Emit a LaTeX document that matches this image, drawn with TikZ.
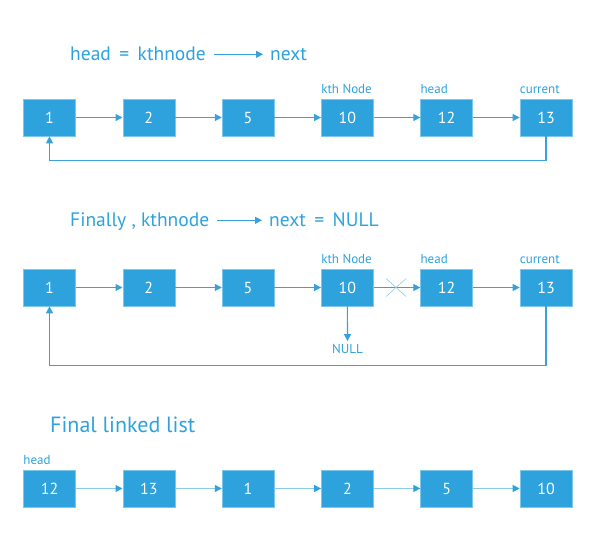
\documentclass[tikz,border=0pt]{standalone}
\usepackage{fontspec}
\setmainfont{PT Sans}
\usepackage{tikz}
\usetikzlibrary{arrows.meta, positioning, calc}
\definecolor{listblue}{RGB}{45,162,220}
\definecolor{lineblue}{RGB}{58,160,216}
\definecolor{paleblue}{RGB}{140,203,234}
\definecolor{edgeblue}{RGB}{125,198,236}
\tikzset{
  listnode/.style={
    draw=edgeblue, fill=listblue, line width=0.6pt, text=white,
    minimum width=52pt, minimum height=37pt, inner sep=0pt,
    font=\fontsize{16}{18}\selectfont
  },
  toplabel/.style={
    text=listblue, inner sep=0pt, anchor=base west, yshift=5pt,
    font=\fontsize{13}{15}\selectfont
  },
  titletext/.style={
    text=listblue, inner sep=0pt, anchor=base west,
    font=\fontsize{19.5}{22}\selectfont
  },
  linkarrow/.style={
    -{Triangle[length=7pt,width=7pt]}, line width=1.1pt, draw=lineblue
  },
  palearrow/.style={
    -{Triangle[length=7pt,width=7pt,color=listblue]}, line width=1.1pt,
    draw=paleblue
  },
  crossmark/.style={line width=0.6pt, draw=paleblue},
}

\begin{document}
\begin{tikzpicture}[x=1pt,y=-1pt]
  \useasboundingbox (0,0) rectangle (595,550);

  % head = kthnode -> next
  \node[titletext] (title1) at (70,60) {head \,=\, kthnode};
  \node[titletext] (title1next) at (270,60) {next};
  \draw[linkarrow]
    ([xshift=8pt,yshift=5.7pt]title1.base east)
    -- ([xshift=-7pt,yshift=5.7pt]title1next.base west);

  \foreach \v [count=\i] in {1,2,5,10,12,13}
    \node[listnode] (a\i) at ({49.5+99.3*(\i-1)},117.5) {\v};
  \foreach \i/\j in {1/2,2/3,3/4,4/5,5/6}
    \draw[linkarrow] (a\i) -- (a\j);
  \draw[linkarrow] (a6.south) -- ++(0,24) -| (a1.south);

  \node[toplabel] at (a4.north west) {kth Node};
  \node[toplabel] at (a5.north west) {head};
  \node[toplabel] at (a6.north west) {current};

  % Finally, kthnode -> next = NULL
  \node[titletext] (title2) at (70,226) {Finally , kthnode};
  \node[titletext] (title2next) at (269,226) {next \,=\, NULL};
  \draw[linkarrow]
    ([xshift=8pt,yshift=5.7pt]title2.base east)
    -- ([xshift=-7pt,yshift=5.7pt]title2next.base west);

  \foreach \v [count=\i] in {1,2,5,10,12,13}
    \node[listnode] (b\i) at ({49.5+99.3*(\i-1)},287.5) {\v};
  \foreach \i/\j in {1/2,2/3,3/4,4/5,5/6}
    \draw[linkarrow] (b\i) -- (b\j);
  \draw[linkarrow] (b6.south) -- ++(0,59) -| (b1.south);

  \node[toplabel] at (b4.north west) {kth Node};
  \node[toplabel] at (b5.north west) {head};
  \node[toplabel] at (b6.north west) {current};

  % broken link
  \coordinate (cut) at ($(b4.east)!0.48!(b5.west)$);
  \draw[crossmark] ($(cut)+(-10,-9)$) -- ($(cut)+(10,9)$);
  \draw[crossmark] ($(cut)+(-10,9)$) -- ($(cut)+(10,-9)$);

  \node[text=listblue, inner sep=3pt, font=\fontsize{13}{15}\selectfont]
    (null) at (347.5,349) {NULL};
  \draw[linkarrow] (b4.south) -- (null.north);

  % Final linked list
  \node[titletext, font=\fontsize{22}{24}\selectfont] (title3) at (50,432)
    {Final linked list};

  \foreach \v [count=\i] in {12,13,1,2,5,10}
    \node[listnode] (c\i) at ({49.5+99.3*(\i-1)},488.5) {\v};
  \foreach \i/\j in {1/2,2/3,3/4,4/5,5/6}
    \draw[palearrow] (c\i) -- (c\j);

  \node[toplabel] at (c1.north west) {head};
\end{tikzpicture}
\end{document}
